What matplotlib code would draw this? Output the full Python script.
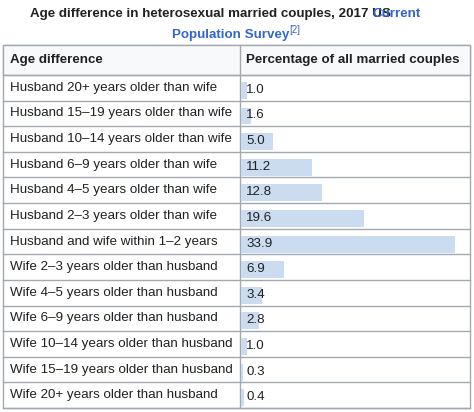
import matplotlib
matplotlib.use("Agg")
import matplotlib.pyplot as plt
from matplotlib.patches import Rectangle

categories = ["Husband 20+ years older than wife", "Husband 15–19 years older than wife",
              "Husband 10–14 years older than wife", "Husband 6–9 years older than wife",
              "Husband 4–5 years older than wife", "Husband 2–3 years older than wife",
              "Husband and wife within 1–2 years", "Wife 2–3 years older than husband",
              "Wife 4–5 years older than husband", "Wife 6–9 years older than husband",
              "Wife 10–14 years older than husband", "Wife 15–19 years older than husband",
              "Wife 20+ years older than husband"]
values = [1.0, 1.6, 5.0, 11.2, 12.8, 19.6, 33.9, 6.9, 3.4, 2.8, 1.0, 0.3, 0.4]
labels = ["1.0", "1.6", "5.0", "11.2", "12.8", "19.6", "33.9", "6.9", "3.4", "2.8", "1.0", "0.3", "0.4"]

W, H = 474, 412
plt.rcParams['font.family'] = ['Liberation Sans', 'DejaVu Sans']
fig = plt.figure(figsize=(W/100, H/100), dpi=100)
ax = fig.add_axes([0, 0, 1, 1])
ax.set_xlim(0, W); ax.set_ylim(H, 0); ax.axis('off')

fs = 9.6
border = '#a2a9b1'
x0, x1, xm = 3, 470, 240
top, hdr = 45, 75
n = len(categories)
rh = (408 - hdr) / n
# title
ax.text(30, 14, "Age difference in heterosexual married couples, 2017 US", ha='left', va='center',
        fontsize=fs, fontweight='bold', color='#202122')
ax.text(373, 14, "Current", ha='left', va='center', fontsize=fs, fontweight='bold', color='#3366cc')
ax.text(172, 35, "Population Survey", ha='left', va='center', fontsize=fs, fontweight='bold', color='#3366cc')
ax.text(289, 30, "[2]", ha='left', va='center', fontsize=7, color='#3366cc')

# table
ax.add_patch(Rectangle((x0, top), x1-x0, 408-top, facecolor='white', edgecolor=border, lw=1))
ax.add_patch(Rectangle((x0, top), x1-x0, hdr-top, facecolor='#f8f9fa', edgecolor=border, lw=1))
ax.plot([xm, xm], [top, 408], color=border, lw=1)
for i in range(n + 1):
    y = hdr + i*rh
    ax.plot([x0, x1], [y, y], color=border, lw=1)
ax.text(10, 60, "Age difference", va='center', fontsize=fs, fontweight='bold', color='#202122')
ax.text(246, 60, "Percentage of all married couples", va='center', fontsize=fs, fontweight='bold', color='#202122')
for i, c in enumerate(categories):
    ax.text(10, hdr + i*rh + rh/2, c, va='center', fontsize=fs, color='#202122')

# bar axes
bx = fig.add_axes([241/W, 1 - 408/H, (470-241)/W, (408-hdr)/H])
bx.set_xlim(0, 229/6.3)
bx.set_ylim(n, 0)
bx.axis('off')
bx.barh([i + 0.6 for i in range(n)], values, height=0.66, color='#cbdcf0', align='center')
for i, t in enumerate(labels):
    bx.text(0.8, i + 0.58, t, va='center', fontsize=fs, color='#202122')

fig.savefig("out.png", dpi=100)
